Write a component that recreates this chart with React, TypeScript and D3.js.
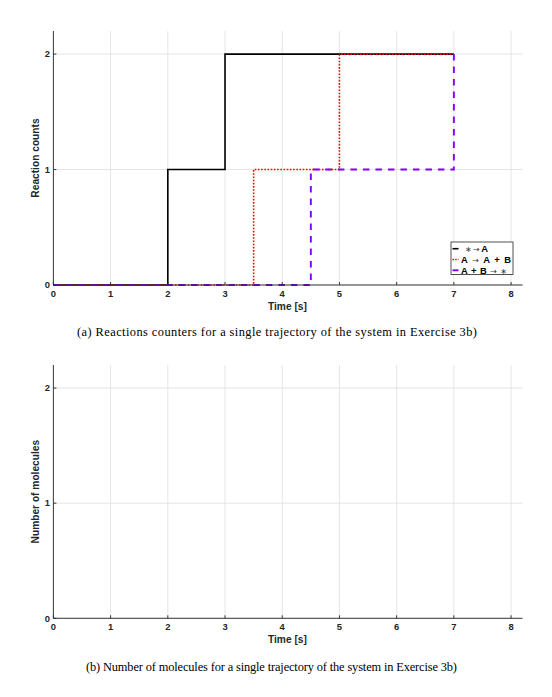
import React from "react";
import * as d3 from "d3";

const xTicks = [0, 1, 2, 3, 4, 5, 6, 7, 8];
const yTicks = [0, 1, 2];
const xDomain: [number, number] = [0, 8.2];
const yDomain: [number, number] = [0, 2.2];

const blackTimes = [0, 2, 3, 7];
const blackCounts = [0, 1, 2, 2];
const redTimes = [0, 3.5, 5, 7];
const redCounts = [0, 1, 2, 2];
const blueTimes = [0, 4.5, 7];
const blueCounts = [0, 1, 2];

const captionA = "(a) Reactions counters for a single trajectory of the system in Exercise 3b)";
const captionB = "(b) Number of molecules for a single trajectory of the system in Exercise 3b)";

const sans = "'Liberation Sans', Arial, Helvetica, sans-serif";
const sym = "'DejaVu Sans', sans-serif";
const serif = "'Liberation Serif', 'DejaVu Serif', serif";

type Series = { times: number[]; counts: number[]; color: string; width: number; dash: string; legendDash: string };

const seriesList: Series[] = [
  { times: blackTimes, counts: blackCounts, color: "#000000", width: 1.6, dash: "", legendDash: "" },
  { times: redTimes, counts: redCounts, color: "#ff0000", width: 1.6, dash: "1.6,1.6", legendDash: "1.5,1.2" },
  { times: blueTimes, counts: blueCounts, color: "#7f00ff", width: 1.9, dash: "6.5,6", legendDash: "" },
];

type Part = { t: string; b: boolean };
const legendRows: Part[][] = [
  [{ t: "∗", b: false }, { t: " → ", b: false }, { t: "A", b: true }],
  [{ t: "A", b: true }, { t: " → ", b: false }, { t: "A + B", b: true }],
  [{ t: "A + B", b: true }, { t: " → ", b: false }, { t: "∗", b: false }],
];
const legendRowLength = [23, 50, 46];
const legendRowStart = [4, 0, 0];

function Legend({ x, y }: { x: number; y: number }) {
  return (
    <g transform={`translate(${x},${y})`}>
      <rect x={0} y={0} width={62} height={32.5} fill="#fff" stroke="#262626" strokeWidth={0.8} />
      {seriesList.map((s, i) => (
        <g key={i} transform={`translate(0,${6.7 + i * 10.8})`}>
          <line x1={1.5} x2={7.5} y1={0} y2={0} stroke={s.color} strokeWidth={s.width}
            strokeDasharray={s.legendDash || undefined} />
          <text x={10 + legendRowStart[i]} y={3.3} fontFamily={sans} fontSize={9.4} fill="#000"
            textLength={legendRowLength[i]} lengthAdjust="spacing">
            {legendRows[i].map((p, k) => (
              <tspan key={k} fontWeight={p.b ? "bold" : "normal"} fontFamily={p.b ? sans : sym}
                fill={p.b ? "#000" : "#333"} fontSize={p.b ? 9.4 : 8}>{p.t}</tspan>
            ))}
          </text>
        </g>
      ))}
    </g>
  );
}

function Chart({ top, bottom, left, right, yLabel, caption, captionY, captionX, captionLen, showData }: {
  top: number; bottom: number; left: number; right: number; yLabel: string;
  caption: string; captionY: number; captionX: number; captionLen: number; showData: boolean;
}) {
  const x = d3.scaleLinear().domain(xDomain).range([left, right]);
  const y = d3.scaleLinear().domain(yDomain).range([bottom, top]);
  const line = d3.line<[number, number]>().x(d => x(d[0])).y(d => y(d[1])).curve(d3.curveStepAfter);
  const axisColor = "#262626";
  return (
    <g>
      {xTicks.map(t => (
        <line key={"gx" + t} x1={x(t)} x2={x(t)} y1={top} y2={bottom} stroke="#dedede" strokeWidth={0.8} />
      ))}
      {yTicks.map(t => (
        <line key={"gy" + t} x1={left} x2={right} y1={y(t)} y2={y(t)} stroke="#dedede" strokeWidth={0.8} />
      ))}
      {showData && seriesList.map((s, i) => (
        <path key={i} d={line(s.times.map((t, k) => [t, s.counts[k]] as [number, number])) || ""}
          fill="none" stroke={s.color} strokeWidth={s.width}
          strokeDasharray={s.dash || undefined} />
      ))}
      <line x1={left} x2={right} y1={bottom} y2={bottom} stroke={axisColor} strokeWidth={0.9} />
      <line x1={left} x2={left} y1={top} y2={bottom} stroke={axisColor} strokeWidth={0.9} />
      {xTicks.map(t => (
        <g key={"tx" + t}>
          <line x1={x(t)} x2={x(t)} y1={bottom} y2={bottom - 3} stroke={axisColor} strokeWidth={0.9} />
          <text x={x(t)} y={bottom + 12} textAnchor="middle" fontFamily={sans} fontWeight="bold" fontSize={9.4} fill={axisColor}>{t}</text>
        </g>
      ))}
      {yTicks.map(t => (
        <g key={"ty" + t}>
          <line x1={left} x2={left + 3} y1={y(t)} y2={y(t)} stroke={axisColor} strokeWidth={0.9} />
          <text x={left - 3.5} y={y(t) + 3.3} textAnchor="end" fontFamily={sans} fontWeight="bold" fontSize={9.4} fill={axisColor}>{t}</text>
        </g>
      ))}
      <text x={(left + right) / 2 - 0.5} y={bottom + 24.5} textAnchor="middle" fontFamily={sans} fontWeight="bold" fontSize={10.2} fill={axisColor}>Time [s]</text>
      <text transform={`translate(${left - 14},${(top + bottom) / 2}) rotate(-90)`} textAnchor="middle" fontFamily={sans} fontWeight="bold" fontSize={10.2} fill={axisColor}>{yLabel}</text>
      <text x={captionX} y={captionY} textAnchor="middle" fontFamily={serif} fontSize={12.4} fill="#000"
        textLength={captionLen} lengthAdjust="spacing">{caption}</text>
    </g>
  );
}

export default function App() {
  return (
    <svg width={552} height={697} viewBox="0 0 552 697" style={{ position: "absolute", left: 0, top: 0, background: "#fff" }}>
      <rect width={552} height={697} fill="#fff" />
      <Chart top={31} bottom={285} left={53.4} right={522.5} yLabel="Reaction counts"
        caption={captionA} captionY={335.5} captionX={277} captionLen={400} showData={true} />
      <Legend x={451} y={242} />
      <Chart top={365} bottom={618.3} left={53.4} right={522.5} yLabel="Number of molecules"
        caption={captionB} captionY={670.5} captionX={271.5} captionLen={371} showData={false} />
    </svg>
  );
}
